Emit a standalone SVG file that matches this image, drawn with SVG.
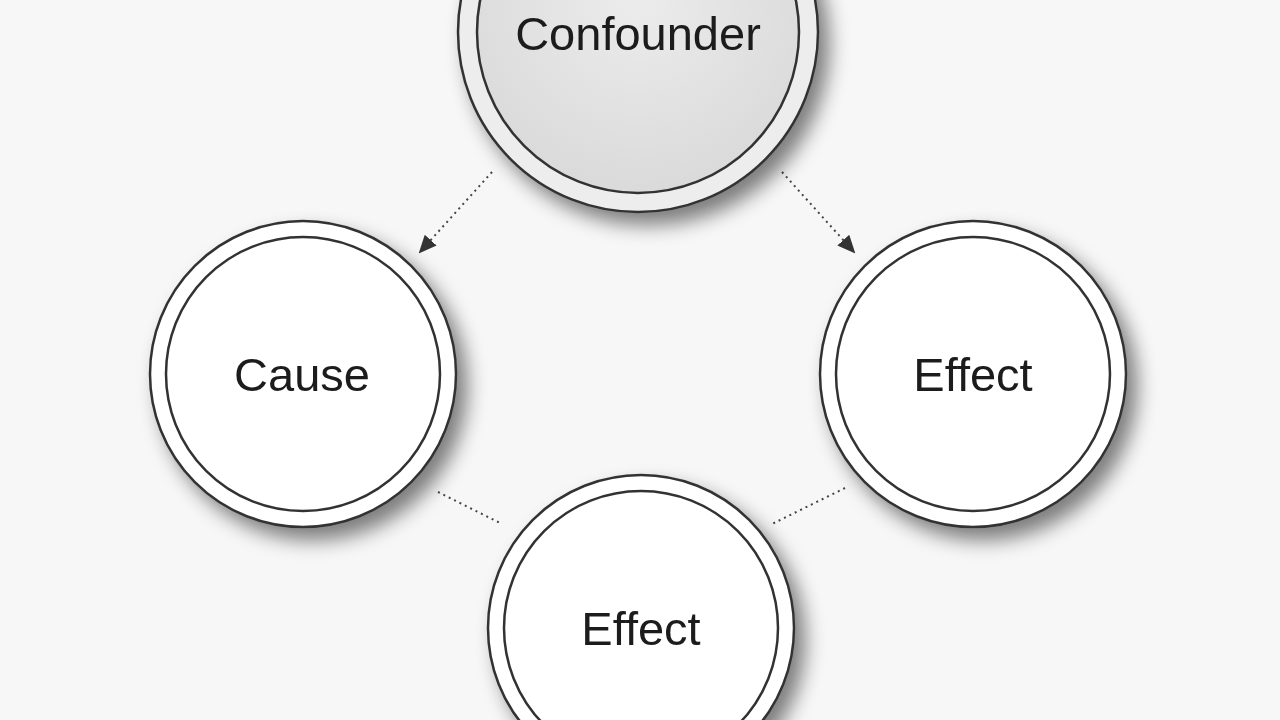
<svg xmlns="http://www.w3.org/2000/svg" width="1280" height="720" viewBox="0 0 1280 720">
<defs>
<filter id="sh" x="-30%" y="-30%" width="160%" height="160%"><feGaussianBlur in="SourceAlpha" stdDeviation="10"/><feOffset dx="10" dy="12"/><feComponentTransfer><feFuncA type="linear" slope="0.5"/></feComponentTransfer><feMerge><feMergeNode/><feMergeNode in="SourceGraphic"/></feMerge></filter>
<radialGradient id="g" cx="0.5" cy="0.4" r="0.6"><stop offset="0" stop-color="#ececec"/><stop offset="1" stop-color="#dadada"/></radialGradient>
<marker id="ah" markerWidth="18" markerHeight="18" refX="16" refY="8" orient="auto" markerUnits="userSpaceOnUse" viewBox="0 0 18 16"><path d="M0,0 L18,8 L0,16 z" fill="#333"/></marker>
<style>
.o{fill:#fff;stroke:#333;stroke-width:2.5}
.i{fill:#fff;stroke:#333;stroke-width:2.5}
.t{font-family:"Liberation Sans",Arial,sans-serif;font-size:47px;fill:#1a1a1a;text-anchor:middle}
.d{stroke:#444;stroke-width:2;stroke-dasharray:2 4;fill:none}
</style>
</defs>
<rect width="1280" height="720" fill="#f7f7f7"/>
<g id="connectors">
<line class="d" x1="492" y1="172" x2="420" y2="252" marker-end="url(#ah)"/>
<line class="d" x1="782" y1="172" x2="854" y2="252" marker-end="url(#ah)"/>
<line class="d" x1="438" y1="492" x2="502" y2="524"/>
<line class="d" x1="845" y1="488" x2="772" y2="524"/>
</g>
<g id="confounder" filter="url(#sh)">
<circle class="o" cx="638" cy="32" r="180" style="fill:#ededed"/>
<circle class="i" cx="638" cy="32" r="161" style="fill:url(#g)"/>
<text class="t" x="638" y="50">Confounder</text>
</g>
<g id="cause" filter="url(#sh)">
<circle class="o" cx="303" cy="374" r="153"/>
<circle class="i" cx="303" cy="374" r="137"/>
<text class="t" x="302" y="391">Cause</text>
</g>
<g id="effect1" filter="url(#sh)">
<circle class="o" cx="973" cy="374" r="153"/>
<circle class="i" cx="973" cy="374" r="137"/>
<text class="t" x="973" y="391">Effect</text>
</g>
<g id="effect2" filter="url(#sh)">
<circle class="o" cx="641" cy="628" r="153"/>
<circle class="i" cx="641" cy="628" r="137"/>
<text class="t" x="641" y="645">Effect</text>
</g>
</svg>
